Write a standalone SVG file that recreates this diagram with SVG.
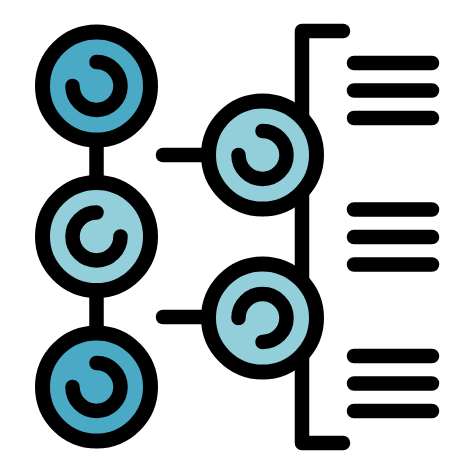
<svg xmlns="http://www.w3.org/2000/svg" width="474" height="474" viewBox="0 0 474 474">
<style>
.ln{fill:none;stroke:#000;stroke-width:14.5;stroke-linecap:round;stroke-linejoin:round}
.dark{fill:#4AA9C5;stroke:#000;stroke-width:15}
.light{fill:#93CFDA;stroke:#000;stroke-width:15}
</style>
<rect width="474" height="474" fill="#fff"/>
<g id="connectors">
<path class="ln" d="M96.5 140V390"/>
<path class="ln" d="M163 155H215"/>
<path class="ln" d="M163 317H215"/>
<path class="ln" d="M343 31H302V443H343"/>
</g>
<g id="node-left-top"><circle class="dark" cx="96.5" cy="86" r="54"/><path class="ln" d="M96.5 62A24 24 0 1 1 72.5 86"/></g>
<g id="node-left-mid"><circle class="light" cx="96.5" cy="236.5" r="54"/><path class="ln" d="M96.5 212.5A24 24 0 1 0 120.5 236.5"/></g>
<g id="node-left-bot"><circle class="dark" cx="96.5" cy="387" r="54"/><path class="ln" d="M96.5 363A24 24 0 1 1 72.5 387"/></g>
<g id="node-right-top"><circle class="light" cx="262.5" cy="155" r="54"/><path class="ln" d="M262.5 131A24 24 0 1 1 238.5 155"/></g>
<g id="node-right-bot"><circle class="light" cx="262.5" cy="318" r="54"/><path class="ln" d="M238.5 318A24 24 0 1 1 262.5 342"/></g>
<g id="list-top"><path class="ln" d="M354 63H432M354 90.5H432M354 118H432"/></g>
<g id="list-mid"><path class="ln" d="M354 209.5H432M354 237H432M354 264.5H432"/></g>
<g id="list-bot"><path class="ln" d="M354 356H432M354 383.5H432M354 411H432"/></g>
</svg>
